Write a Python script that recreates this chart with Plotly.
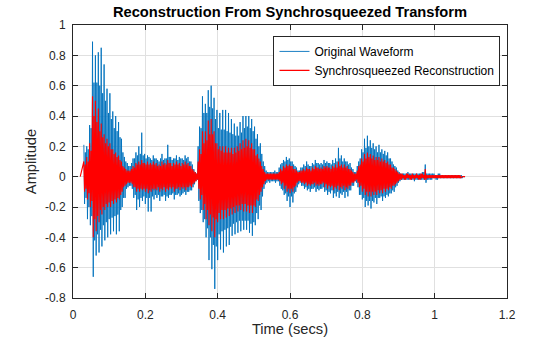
import numpy as np
import plotly.graph_objects as go

# Sample grid of the read-off peaks (seconds); one positive and one negative
# peak per 4 ms, amplitudes in hundredths
t_start = 0.030
t_step = 0.004
amp_unit = 0.01

orig_pos = [
    21, 16, 20, 18, 34, 32, 89, 62, 80, 62, 82, 60, 85, 55, 74, 50, 58, 42, 55, 38,
    43, 32, 40, 30, 36, 26, 25, 16, 13, 10, 9, 7, 7, 9, 12, 12, 16, 14, 20, 15,
    29, 14, 15, 12, 14, 13, 12, 11, 14, 12, 12, 11, 10, 12, 15, 11, 12, 12, 21, 13,
    13, 11, 12, 12, 14, 11, 13, 12, 12, 11, 14, 12, 13, 10, 10, 8, 5, 3, 2, 20,
    33, 32, 53, 42, 48, 42, 57, 46, 60, 45, 52, 38, 44, 32, 42, 31, 44, 31, 44, 30,
    42, 29, 38, 28, 35, 27, 33, 27, 36, 29, 40, 32, 40, 33, 40, 32, 38, 30, 33, 25,
    28, 20, 22, 15, 10, 7, 4, 3, 3, 3, 3, 3, 4, 3, 3, 6, 8, 9, 11, 10,
    13, 11, 12, 10, 10, 8, 7, 6, 4, 4, 6, 6, 8, 7, 10, 8, 7, 7, 9, 8,
    11, 9, 9, 8, 9, 8, 11, 9, 10, 9, 9, 8, 11, 9, 12, 10, 19, 12, 14, 10,
    12, 10, 10, 8, 9, 6, 5, 3, 3, 7, 10, 12, 18, 16, 25, 19, 27, 20, 24, 19,
    22, 18, 20, 16, 21, 16, 18, 15, 17, 14, 16, 12, 12, 10, 8, 7, 6, 4, 3, 2,
    2, 2, 2, 2, 3, 2, 2, 2, 2, 2, 2, 2, 2, 2, 3, 3, 8, 2, 2, 2,
    2, 2, 2, 1, 1, 2, 2, 1, 1, 1, 1, 1, 1, 1, 1, 1, 1, 1, 1, 1,
    1, 1, 0, 0,
]
orig_neg = [
    18, 14, 28, 20, 32, 26, 66, 42, 52, 38, 50, 35, 46, 32, 42, 30, 40, 28, 38, 27,
    36, 26, 38, 25, 36, 22, 20, 14, 14, 8, 7, 6, 6, 8, 14, 12, 22, 15, 20, 14,
    16, 13, 18, 14, 23, 14, 23, 13, 15, 12, 14, 12, 16, 13, 13, 12, 16, 13, 14, 12,
    12, 11, 15, 12, 12, 11, 13, 12, 11, 10, 12, 10, 10, 9, 9, 7, 5, 3, 2, 16,
    24, 22, 30, 28, 40, 34, 55, 40, 61, 45, 74, 46, 55, 38, 48, 36, 50, 35, 46, 34,
    45, 33, 39, 31, 38, 30, 37, 29, 36, 29, 35, 29, 35, 29, 37, 31, 39, 30, 32, 24,
    28, 19, 22, 13, 8, 5, 4, 3, 4, 3, 3, 3, 4, 3, 3, 6, 8, 9, 12, 11,
    16, 13, 20, 13, 17, 11, 10, 7, 5, 4, 6, 6, 8, 7, 9, 8, 10, 8, 8, 7,
    10, 8, 9, 8, 8, 7, 10, 9, 12, 10, 11, 9, 14, 11, 13, 10, 14, 11, 12, 10,
    14, 10, 13, 9, 9, 6, 6, 3, 4, 7, 12, 12, 15, 14, 20, 16, 19, 16, 21, 16,
    17, 14, 18, 14, 14, 13, 16, 13, 14, 12, 13, 11, 11, 9, 10, 7, 6, 4, 3, 2,
    2, 2, 2, 2, 2, 2, 2, 2, 3, 2, 2, 2, 2, 2, 2, 2, 4, 2, 2, 2,
    2, 1, 1, 2, 2, 1, 1, 1, 1, 1, 1, 1, 1, 1, 1, 1, 1, 1, 1, 1,
    1, 1, 0, 0,
]

recon_pos = [
    10, 8, 13, 10, 22, 17, 53, 40, 50, 36, 45, 30, 35, 26, 28, 22, 25, 20, 22, 18,
    18, 15, 16, 13, 14, 11, 10, 7, 6, 5, 4, 4, 4, 5, 7, 6, 9, 8, 10, 8,
    11, 9, 9, 8, 10, 8, 9, 8, 10, 8, 9, 7, 8, 7, 10, 8, 9, 8, 11, 9,
    9, 7, 9, 8, 10, 8, 9, 7, 9, 8, 10, 8, 9, 7, 7, 5, 4, 3, 2, 10,
    18, 15, 30, 22, 30, 24, 37, 28, 38, 28, 30, 22, 22, 18, 20, 17, 20, 16, 20, 16,
    19, 16, 19, 15, 19, 16, 20, 17, 22, 18, 24, 19, 25, 20, 24, 19, 22, 18, 18, 14,
    15, 12, 10, 7, 5, 3, 2, 2, 2, 2, 2, 2, 2, 2, 2, 3, 5, 4, 7, 6,
    8, 7, 8, 7, 7, 5, 5, 4, 3, 3, 4, 4, 5, 4, 6, 5, 5, 4, 6, 5,
    7, 6, 6, 5, 6, 5, 7, 6, 7, 6, 6, 5, 7, 6, 8, 6, 10, 7, 8, 6,
    8, 6, 7, 5, 5, 4, 3, 2, 2, 4, 7, 8, 12, 10, 15, 12, 16, 13, 15, 12,
    14, 11, 13, 11, 13, 10, 12, 10, 11, 9, 10, 8, 8, 6, 6, 5, 4, 3, 2, 2,
    2, 1, 1, 2, 2, 1, 1, 2, 1, 1, 2, 1, 1, 2, 2, 1, 5, 1, 1, 1,
    1, 1, 1, 1, 1, 1, 1, 1, 1, 1, 1, 1, 1, 1, 1, 1, 1, 1, 1, 1,
    1, 0, 0, 0,
]
recon_neg = [
    10, 8, 15, 11, 20, 16, 40, 28, 36, 26, 30, 22, 25, 20, 22, 18, 20, 17, 20, 16,
    18, 15, 17, 14, 15, 12, 10, 7, 6, 5, 4, 4, 4, 5, 7, 7, 10, 8, 10, 8,
    9, 8, 10, 8, 11, 9, 10, 8, 9, 8, 9, 7, 10, 8, 9, 7, 10, 8, 9, 7,
    8, 7, 10, 8, 8, 7, 9, 7, 8, 7, 9, 7, 7, 6, 7, 5, 4, 3, 2, 8,
    15, 12, 22, 18, 28, 22, 32, 25, 36, 27, 40, 28, 30, 24, 28, 22, 28, 22, 27, 21,
    26, 21, 25, 20, 24, 19, 23, 19, 22, 18, 23, 18, 23, 19, 24, 19, 24, 19, 20, 15,
    16, 12, 10, 7, 5, 3, 2, 2, 2, 2, 2, 2, 2, 2, 2, 3, 5, 4, 8, 6,
    10, 8, 11, 8, 10, 7, 6, 4, 3, 3, 4, 4, 5, 4, 6, 5, 6, 5, 5, 4,
    6, 5, 6, 5, 5, 4, 7, 5, 8, 6, 7, 6, 9, 7, 8, 6, 9, 7, 8, 6,
    9, 7, 8, 6, 6, 4, 4, 3, 2, 4, 7, 6, 10, 8, 12, 10, 13, 10, 13, 10,
    12, 10, 12, 9, 11, 9, 11, 8, 10, 8, 9, 7, 8, 6, 6, 5, 4, 3, 2, 2,
    1, 2, 2, 1, 1, 2, 2, 1, 2, 1, 1, 2, 2, 1, 1, 2, 2, 1, 1, 1,
    1, 1, 1, 1, 1, 1, 1, 1, 1, 1, 1, 1, 1, 1, 1, 1, 1, 1, 1, 1,
    1, 0, 0, 0,
]

x_ticks = [0, 0.2, 0.4, 0.6, 0.8, 1.0, 1.2]
x_tick_labels = ["0", "0.2", "0.4", "0.6", "0.8", "1", "1.2"]
y_ticks = [-0.8, -0.6, -0.4, -0.2, 0, 0.2, 0.4, 0.6, 0.8, 1.0]
y_tick_labels = ["-0.8", "-0.6", "-0.4", "-0.2", "0", "0.2", "0.4", "0.6", "0.8", "1"]


def interleave(pos, neg):
    t = []
    y = []
    for k in range(len(pos)):
        tk = t_start + k * t_step
        t += [tk, tk + t_step / 2]
        y += [pos[k] * amp_unit, -neg[k] * amp_unit]
    return t, y


t_o, y_o = interleave(orig_pos, orig_neg)
t_r, y_r = interleave(recon_pos, recon_neg)
t_r = [0.02] + t_r
y_r = [0.0] + y_r

FONT = "Liberation Sans, Arial, Helvetica, sans-serif"

fig = go.Figure()
fig.add_trace(go.Scatter(x=t_o, y=y_o, mode="lines", name="Original Waveform",
                         line=dict(color="#0072BD", width=0.9)))
fig.add_trace(go.Scatter(x=t_r, y=y_r, mode="lines", name="Synchrosqueezed Reconstruction",
                         line=dict(color="#FF0000", width=1.1)))

axis_common = dict(
    showline=True, linecolor="#262626", linewidth=1, mirror="ticks",
    ticks="inside", ticklen=5, tickcolor="#262626",
    showgrid=True, gridcolor="#E0E0E0", gridwidth=1,
    zeroline=False, automargin=False,
    tickfont=dict(family=FONT, size=12, color="#262626"),
)

fig.update_layout(
    width=560, height=337,
    margin=dict(l=73, r=53, t=25, b=39),
    paper_bgcolor="white", plot_bgcolor="white",
    title=dict(text="<b>Reconstruction From Synchrosqueezed Transform</b>",
               x=(73 + 507) / 2 / 560, xanchor="center", y=1 - 12 / 337, yanchor="middle",
               font=dict(family=FONT, size=14.7, color="black")),
    xaxis=dict(range=[0, 1.2], tickvals=x_ticks, ticktext=x_tick_labels,
               ticklabelstandoff=6,
               title=dict(text="Time (secs)", font=dict(family=FONT, size=14.7, color="#262626"),
                          standoff=2),
               **axis_common),
    yaxis=dict(range=[-0.8, 1.0], tickvals=y_ticks, ticktext=y_tick_labels,
               ticklabelstandoff=4,
               title=dict(text="Amplitude", font=dict(family=FONT, size=14.7, color="#262626"),
                          standoff=4),
               **axis_common),
    legend=dict(x=0.985, y=0.96, xanchor="right", yanchor="top",
                bgcolor="white", bordercolor="#262626", borderwidth=1,
                font=dict(family=FONT, size=12, color="black"),
                tracegroupgap=0),
    showlegend=True,
)

fig.write_html("out.html")
